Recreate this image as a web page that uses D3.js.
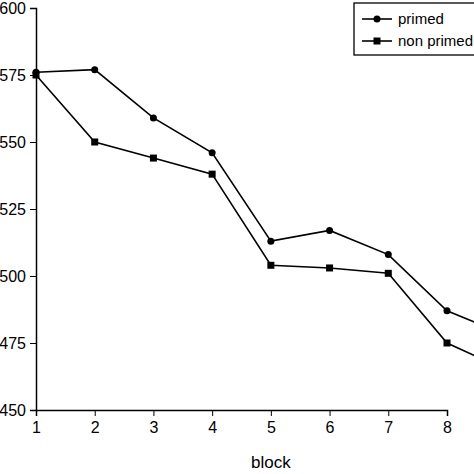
<!DOCTYPE html>
<html><head><meta charset="utf-8">
<script src="https://cdn.jsdelivr.net/npm/d3@7"></script>
<style>body{margin:0;background:#fff}</style></head>
<body><div id="container"></div>
<script>
const blocks=[1,2,3,4,5,6,7,8,9];
const tickBlocks=[1,2,3,4,5,6,7,8];
const primed=[576,577,559,546,513,517,508,487,478];
const nonPrimed=[575,550,544,538,504,503,501,475,465];
const yTicks=[450,475,500,525,550,575,600];
const seriesNames=["primed","non primed"];

const svg=d3.select("#container").append("svg").attr("width",474).attr("height",474);
const x=d3.scaleLinear().domain([1,8]).range([36,447]);
const y=d3.scaleLinear().domain([450,600]).range([410,8]);

svg.append("g").attr("transform","translate(36,0)")
  .call(d3.axisLeft(y).tickValues(yTicks).tickSize(6).tickPadding(4))
  .call(g=>{g.select(".domain").attr("stroke","#000").attr("stroke-width",1.5);
    g.selectAll("text").attr("font-family","Liberation Sans, Arial").attr("font-size",16).attr("fill","#000");});
svg.append("g").attr("transform","translate(0,410)")
  .call(d3.axisBottom(x).tickValues(tickBlocks).tickFormat(d3.format("d")).tickSize(6).tickPadding(6))
  .call(g=>{g.select(".domain").attr("stroke","#000").attr("stroke-width",1.5);
    g.selectAll("text").attr("font-family","Liberation Sans, Arial").attr("font-size",16).attr("fill","#000");});
svg.append("text").attr("x",x(5)).attr("y",468).attr("text-anchor","middle")
  .attr("font-family","Liberation Sans, Arial").attr("font-size",17).text("block");

const line=d3.line().x((d,i)=>x(blocks[i])).y(d=>y(d));
[primed,nonPrimed].forEach((s,k)=>{
  svg.append("path").datum(s).attr("d",line).attr("fill","none").attr("stroke","#000").attr("stroke-width",1.6);
  const g=svg.append("g");
  s.forEach((v,i)=>{
    if(k===0) g.append("circle").attr("cx",x(blocks[i])).attr("cy",y(v)).attr("r",3.5);
    else g.append("rect").attr("x",x(blocks[i])-3.5).attr("y",y(v)-3.5).attr("width",7).attr("height",7);
  });
});

const lg=svg.append("g");
lg.append("rect").attr("x",354).attr("y",3).attr("width",130).attr("height",52).attr("fill","#fff").attr("stroke","#000").attr("stroke-width",1.3);
seriesNames.forEach((n,k)=>{
  const yy=19+k*22;
  lg.append("line").attr("x1",362).attr("x2",392).attr("y1",yy).attr("y2",yy).attr("stroke","#000").attr("stroke-width",1.6);
  if(k===0) lg.append("circle").attr("cx",377).attr("cy",yy).attr("r",3.5);
  else lg.append("rect").attr("x",373.5).attr("y",yy-3.5).attr("width",7).attr("height",7);
  lg.append("text").attr("x",398).attr("y",yy+5).attr("font-family","Liberation Sans, Arial").attr("font-size",15).text(n);
});
</script></body></html>
